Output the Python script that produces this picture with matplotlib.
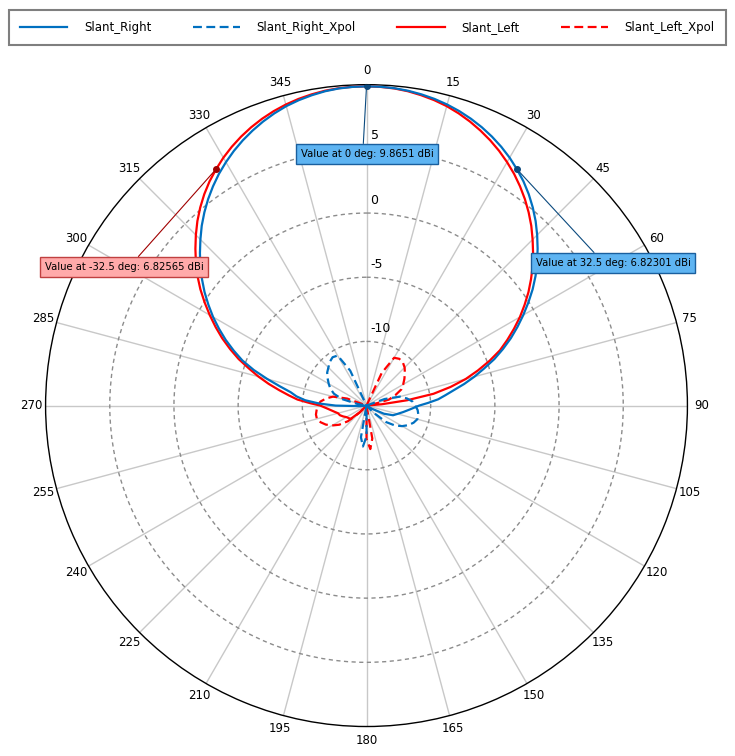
import numpy as np
import matplotlib.pyplot as plt

# co-pol cuts (dBi): 2.5 deg steps on the main lobe, 5 deg at the back
copol_angles = np.concatenate([np.arange(0, 92.5, 2.5),
                               np.arange(95, 270, 5),
                               np.arange(270, 360, 2.5)])

slant_right = ([9.87, 9.86, 9.82, 9.74, 9.62, 9.47, 9.28, 9.05, 8.78, 8.47,
                8.12, 7.73, 7.3, 6.82, 6.32, 5.76, 5.15, 4.5, 3.8, 3.08,
                2.35, 1.6, 0.8, -0.05, -0.9, -1.75, -2.6, -3.5, -4.4, -5.4,
                -6.3, -7.2, -8.1, -8.8, -9.4, -10.2, -10.9]
               + [-11.6, -12.1, -12.5, -12.8, -13.5, -14.5] + [-15] * 28 + [-14.5]
               + [-12.6, -11.3, -10.2, -9.5, -9.0, -8.1, -7.0, -5.8, -4.7, -3.8,
                  -2.9, -2.05, -1.2, -0.4, 0.4, 1.15, 1.9, 2.6, 3.3, 4.0,
                  4.65, 5.27, 5.85, 6.4, 6.9, 7.37, 7.8, 8.19, 8.55, 8.87,
                  9.15, 9.37, 9.55, 9.7, 9.8, 9.85])

slant_left = ([9.87, 9.85, 9.8, 9.7, 9.55, 9.37, 9.15, 8.87, 8.55, 8.19,
               7.8, 7.37, 6.9, 6.4, 5.85, 5.27, 4.65, 4.0, 3.3, 2.6,
               1.9, 1.15, 0.4, -0.4, -1.2, -2.05, -2.9, -3.75, -4.8, -5.9,
               -7.0, -8.3, -9.7, -11.8, -13.8, -15, -15]
              + [-15] * 26 + [-14.3, -13.4, -13.3, -13.2, -13.0, -12.8, -12.7, -12.4, -12.0]
              + [-11.4, -10.6, -9.6, -8.9, -8.1, -7.2, -6.3, -5.4, -4.4, -3.5,
                 -2.6, -1.75, -0.9, -0.05, 0.8, 1.6, 2.35, 3.08, 3.8, 4.5,
                 5.15, 5.76, 6.32, 6.82, 7.3, 7.73, 8.12, 8.47, 8.78, 9.05,
                 9.28, 9.47, 9.62, 9.74, 9.82, 9.86])

# cross-pol cuts (dBi), every 5 deg
xpol_angles = np.arange(0, 360, 5)

slant_right_xpol = [-15, -15, -15, -15, -15, -15, -15, -15, -15, -15,
                    -15, -15, -15, -15, -13.5, -12.3, -11.8, -11.4, -11.2, -11.0,
                    -10.9, -10.9, -11.1, -11.4, -11.8, -12.3, -13.0, -14.2, -15, -15,
                    -15, -15, -15, -15, -15, -15, -12.6, -11.8, -12.5, -15,
                    -15, -15, -15, -15, -15, -15, -15, -15, -15, -15,
                    -15, -15, -15, -15, -15, -15, -14.3, -13.0, -12.3, -11.9,
                    -11.6, -11.3, -11.0, -10.8, -10.55, -10.4, -10.5, -12.0, -15, -15,
                    -15, -15]

slant_left_xpol = [-15, -15, -15, -15, -15, -12.2, -10.7, -10.55, -10.6, -10.8,
                   -11.1, -11.4, -11.7, -12.0, -12.6, -13.2, -14.5, -15, -15, -15,
                   -15, -15, -15, -15, -15, -15, -15, -15, -15, -15,
                   -15, -15, -15, -15, -12.4, -11.6, -12.4, -15, -15, -15,
                   -15, -15, -15, -15, -15, -14.2, -13.1, -12.4, -11.9, -11.5,
                   -11.2, -11.0, -11.0, -11.1, -11.2, -11.4, -11.8, -12.3, -13.4, -15,
                   -15, -15, -15, -15, -15, -15, -15, -15, -15, -15,
                   -15, -15]

# markers shown on the chart
mark_angles = [0, 32.5, -32.5]
mark_values = [9.8651, 6.82301, 6.82565]
mark_labels = ['Value at 0 deg: 9.8651 dBi',
               'Value at 32.5 deg: 6.82301 dBi',
               'Value at -32.5 deg: 6.82565 dBi']

r_ticks = [-10, -5, 0, 5]

blue = '#0070c0'
red = '#ff0000'

fig = plt.figure(figsize=(7.35, 7.56), dpi=100)
ax = fig.add_axes([0.0619, 0.039, 0.8735, 0.849], projection='polar')
ax.set_theta_zero_location('N')
ax.set_theta_direction(-1)
ax.set_ylim(-15, 10)

def closed(a, v):
    return np.deg2rad(np.append(a, 360)), np.append(v, v[0])

dash = (0, (4, 2))
ax.plot(*closed(copol_angles, slant_right), color=blue, lw=1.6, label='Slant_Right', zorder=4)
ax.plot(*closed(xpol_angles, slant_right_xpol), color=blue, lw=1.6, ls=dash, label='Slant_Right_Xpol', zorder=4)
ax.plot(*closed(copol_angles, slant_left), color=red, lw=1.6, label='Slant_Left', zorder=3)
ax.plot(*closed(xpol_angles, slant_left_xpol), color=red, lw=1.6, ls=dash, label='Slant_Left_Xpol', zorder=3)

# grid
ax.set_thetagrids(range(0, 360, 15), [str(a) for a in range(0, 360, 15)], fontsize=8.5)
ax.set_yticks(r_ticks)
ax.set_yticklabels([])
ax.xaxis.grid(True, color='#c8c8c8', lw=1, ls='-')
ax.yaxis.grid(True, color='#8c8c8c', lw=1, ls=(0, (3, 2.5)))
ax.tick_params(axis='x', pad=-0.5)
ax.spines['polar'].set_color('black')
ax.spines['polar'].set_linewidth(1)
ax.set_axisbelow(True)

for r in r_ticks:
    ax.annotate(str(r), xy=(0, r), xytext=(4, 13), textcoords='offset pixels',
                ha='left', va='center', fontsize=9)

# markers + callouts
box_pos = [(367, 602), (613, 493), (124, 489)]
box_fc = ['#5eb4f2', '#5eb4f2', '#ffaaaa']
box_ec = ['#1a5f9e', '#1a5f9e', '#c04040']
dot_c = ['#0b4a7e', '#0b4a7e', '#a00000']
rel = [(0.47, 1.0), (0.41, 1.0), (0.56, 1.0)]
for a, v, t, p, fc, ec, dc, rp in zip(mark_angles, mark_values, mark_labels,
                                       box_pos, box_fc, box_ec, dot_c, rel):
    ax.plot(np.deg2rad(a), v, 'o', color=dc, ms=4, zorder=5)
    ax.annotate(t, xy=(np.deg2rad(a), v), xytext=p, textcoords='figure pixels',
                ha='center', va='center', fontsize=7.2, zorder=6,
                bbox=dict(boxstyle='square,pad=0.5', fc=fc, ec=ec, lw=1),
                arrowprops=dict(arrowstyle='-', color=dc, lw=0.8, relpos=rp,
                                shrinkA=0, shrinkB=0))

leg = fig.legend(loc='center', bbox_to_anchor=(9/735, 1 - 45/756, 717/735, 35/756),
                 ncol=4, mode='expand', fancybox=False, edgecolor='#7f7f7f',
                 fontsize=8.5, handlelength=4.0, handletextpad=1.4,
                 borderpad=0.95, borderaxespad=0, framealpha=1)
leg.get_frame().set_linewidth(1.5)

plt.savefig('out.png', dpi=100)
